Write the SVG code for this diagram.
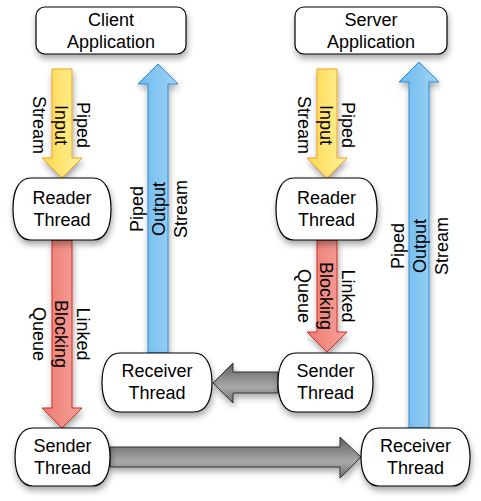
<svg xmlns="http://www.w3.org/2000/svg" width="481" height="501" viewBox="0 0 481 501">
<defs>
<filter id="sh" x="-20%" y="-20%" width="150%" height="150%">
<feDropShadow dx="1" dy="4" stdDeviation="3" flood-color="#000" flood-opacity="0.35"/>
</filter>
<linearGradient id="gy" x1="0" y1="0" x2="1" y2="0">
<stop offset="0" stop-color="#FFD84E"/><stop offset="1" stop-color="#FFF19A"/>
</linearGradient>
<linearGradient id="gr" x1="0" y1="0" x2="1" y2="0">
<stop offset="0" stop-color="#EE7A70"/><stop offset="1" stop-color="#F4A39B"/>
</linearGradient>
<linearGradient id="gb" x1="0" y1="0" x2="1" y2="0">
<stop offset="0" stop-color="#6BB9EE"/><stop offset="1" stop-color="#A2D4F6"/>
</linearGradient>
<linearGradient id="gg" x1="0" y1="0" x2="0" y2="1">
<stop offset="0" stop-color="#5E5E5E"/><stop offset="0.6" stop-color="#A9A9A9"/><stop offset="1" stop-color="#6E6E6E"/>
</linearGradient>
</defs>
<style>
.node{fill:#fff;stroke:#000;stroke-width:1.2;filter:url(#sh)}
.t{font-family:"Liberation Sans",Arial,sans-serif;font-size:18px;fill:#000;text-anchor:middle}
.ay{fill:url(#gy);stroke:#F0A020;stroke-width:1;filter:url(#sh)}
.ar{fill:url(#gr);stroke:#D22E24;stroke-width:1;filter:url(#sh)}
.ab{fill:url(#gb);stroke:#2F8AD8;stroke-width:1;filter:url(#sh)}
.ag{fill:url(#gg);stroke:#333;stroke-width:1;filter:url(#sh)}
</style>
<g id="connectors">
<path class="ay" d="M52,69 H72 V158 H82 L62,178 L42,158 H52 Z"/>
<path class="ar" d="M52,240 H72 V408 H82 L62,428 L42,408 H52 Z"/>
<path class="ab" d="M148,353 V84 H138 L158,64 L178,84 H168 V353 Z"/>
<path class="ay" d="M317,69 H337 V158 H347 L327,178 L307,158 H317 Z"/>
<path class="ar" d="M317,240 H337 V332 H347 L327,352 L307,332 H317 Z"/>
<path class="ab" d="M409,428 V82 H399 L419,62 L439,82 H429 V428 Z"/>
<path class="ag" d="M278,372 H233 V363 L213,383 L233,403 V393 H278 Z"/>
<path class="ag" d="M110,447 H340 V437 L361,457 L340,478 V467 H110 Z"/>
<text class="t" transform="translate(62,125) rotate(90)"><tspan x="0" y="-15">Piped</tspan><tspan x="0" y="7">Input</tspan><tspan x="0" y="29">Stream</tspan></text>
<text class="t" transform="translate(62,334) rotate(90)"><tspan x="0" y="-15">Linked</tspan><tspan x="0" y="7">Blocking</tspan><tspan x="0" y="29">Queue</tspan></text>
<text class="t" transform="translate(158,209) rotate(-90)"><tspan x="0" y="-15">Piped</tspan><tspan x="0" y="7">Output</tspan><tspan x="0" y="29">Stream</tspan></text>
<text class="t" transform="translate(327,125) rotate(90)"><tspan x="0" y="-15">Piped</tspan><tspan x="0" y="7">Input</tspan><tspan x="0" y="29">Stream</tspan></text>
<text class="t" transform="translate(327,296) rotate(90)"><tspan x="0" y="-15">Linked</tspan><tspan x="0" y="7">Blocking</tspan><tspan x="0" y="29">Queue</tspan></text>
<text class="t" transform="translate(419,246) rotate(-90)"><tspan x="0" y="-15">Piped</tspan><tspan x="0" y="7">Output</tspan><tspan x="0" y="29">Stream</tspan></text>
</g>
<g id="client-app">
<rect class="node" x="36" y="7" width="150" height="47" rx="9"/>
<text class="t" x="111" y="26">Client</text><text class="t" x="111" y="48">Application</text>
</g>
<g id="server-app">
<rect class="node" x="295" y="7" width="152" height="47" rx="9"/>
<text class="t" x="371" y="26">Server</text><text class="t" x="371" y="48">Application</text>
</g>
<g id="client-reader">
<path class="node" d="M31,178 H93 C105,178 111,190 111,209 C111,228 105,240 93,240 H31 C19,240 13,228 13,209 C13,190 19,178 31,178 Z"/>
<text class="t" x="62" y="204">Reader</text><text class="t" x="62" y="226">Thread</text>
</g>
<g id="server-reader">
<path class="node" d="M294,178 H359 C371,178 377,190 377,209 C377,228 371,240 359,240 H294 C282,240 276,228 276,209 C276,190 282,178 294,178 Z"/>
<text class="t" x="326.5" y="204">Reader</text><text class="t" x="326.5" y="226">Thread</text>
</g>
<g id="client-receiver">
<path class="node" d="M120,353 H194 C206,353 212,365 212,382.5 C212,400 206,412 194,412 H120 C108,412 102,400 102,382.5 C102,365 108,353 120,353 Z"/>
<text class="t" x="157" y="377">Receiver</text><text class="t" x="157" y="399">Thread</text>
</g>
<g id="server-sender">
<path class="node" d="M296,353 H355 C367,353 373,365 373,382.5 C373,400 367,412 355,412 H296 C284,412 278,400 278,382.5 C278,365 284,353 296,353 Z"/>
<text class="t" x="325.5" y="377">Sender</text><text class="t" x="325.5" y="399">Thread</text>
</g>
<g id="client-sender">
<path class="node" d="M33,428 H92 C104,428 110,440 110,457 C110,474 104,486 92,486 H33 C21,486 15,474 15,457 C15,440 21,428 33,428 Z"/>
<text class="t" x="62.5" y="452">Sender</text><text class="t" x="62.5" y="474">Thread</text>
</g>
<g id="server-receiver">
<path class="node" d="M379,428 H452 C464,428 470,440 470,457 C470,474 464,486 452,486 H379 C367,486 361,474 361,457 C361,440 367,428 379,428 Z"/>
<text class="t" x="415.5" y="452">Receiver</text><text class="t" x="415.5" y="474">Thread</text>
</g>
</svg>
